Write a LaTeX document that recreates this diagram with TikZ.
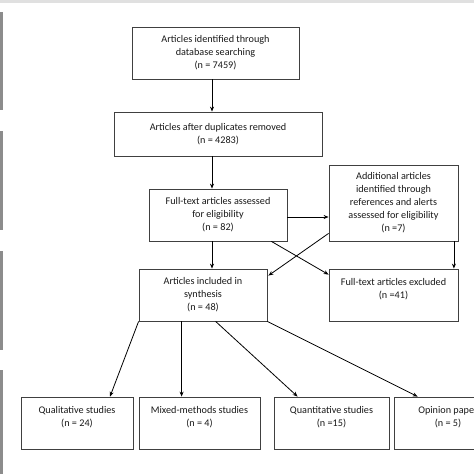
\documentclass[tikz,border=0pt]{standalone}
\usepackage{fontspec}
\setmainfont{Carlito}
\usepackage{tikz}
\usetikzlibrary{arrows.meta, positioning, calc}

\begin{document}
\begin{tikzpicture}[x=1pt, y=-1pt,
	box/.style={draw=black!75, line width=0.8pt, align=center, inner sep=2pt,
		font=\fontsize{10.2}{13}\selectfont, text=black!90},
	arr/.style={-{Stealth[length=5pt, width=4pt]}, line width=0.8pt}]
	\clip (0,0) rectangle (474,474);
	% crop edges of the original page
	\fill[black!12] (0,0) rectangle (474,2.5);
	\foreach \ya/\yb in {12/110, 131/230, 251/350, 370/474}
		\fill[black!45] (0,\ya) rectangle (3,\yb);
	% main flow
	\node[box, minimum width=167pt, minimum height=52pt] (ident) at (215.5,53)
		{Articles identified through\\database searching\\(n = 7459)};
	\node[box, minimum width=208pt, minimum height=44pt] (dupl) at (218,134)
		{Articles after duplicates removed\\(n = 4283)};
	\node[box, minimum width=138pt, minimum height=52pt] (full) at (218,215)
		{Full-text articles assessed\\for eligibility\\(n = 82)};
	\node[box, minimum width=129pt, minimum height=76pt] (addit) at (393.5,203)
		{Additional articles\\identified through\\references and alerts\\assessed for eligibility\\(n =7)};
	\node[box, minimum width=128pt, minimum height=52pt] (incl) at (203,295)
		{Articles included in\\synthesis\\(n = 48)};
	\node[box, minimum width=129pt, minimum height=52pt] (excl) at (393.5,295)
		{Full-text articles excluded\\(n =41)\\~};
	% study types
	\node[box, minimum width=112pt, minimum height=52pt] (qual) at (77,423)
		{Qualitative studies\\(n = 24)\\~};
	\node[box, minimum width=121pt, minimum height=52pt] (mixed) at (199.5,423)
		{Mixed-methods studies\\(n = 4)\\~};
	\node[box, minimum width=115pt, minimum height=52pt] (quant) at (331.5,423)
		{Quantitative studies\\(n =15)\\~};
	\node[box, minimum width=108pt, minimum height=52pt] (opin) at (448,423)
		{Opinion paper\\(n = 5)\\~};
	% connectors
	\coordinate (spine) at (212,0);
	\draw[arr] (ident.south -| spine) -- (dupl.north -| spine);
	\draw[arr] (dupl.south -| spine) -- (full.north -| spine);
	\draw[arr] (full.south -| spine) -- (incl.north -| spine);
	\draw[arr] ($(full.east)+(0,2)$) -- ($(addit.west |- full.east)+(0,2)$);
	\draw[arr] ($(addit.south east)+(-4.5,0)$) -- ($(excl.north east)+(-4.5,0)$);
	\draw[arr] ($(full.south east)+(-16,0)$) -- ($(excl.north west)+(0,6)$);
	\draw[arr] ($(addit.south west)+(0,-8)$) -- ($(incl.north east)+(1,7)$);
	\draw[arr] (incl.south west) -- ($(qual.north)+(33,0)$);
	\draw[arr] ($(incl.south west)+(43,0)$) -- ($(mixed.north west)+(43,0)$);
	\draw[arr] ($(incl.south west)+(77,0)$) -- ($(quant.north west)+(24,0)$);
	\draw[arr] (incl.south east) -- ($(opin.north west)+(24,0)$);
\end{tikzpicture}
\end{document}
